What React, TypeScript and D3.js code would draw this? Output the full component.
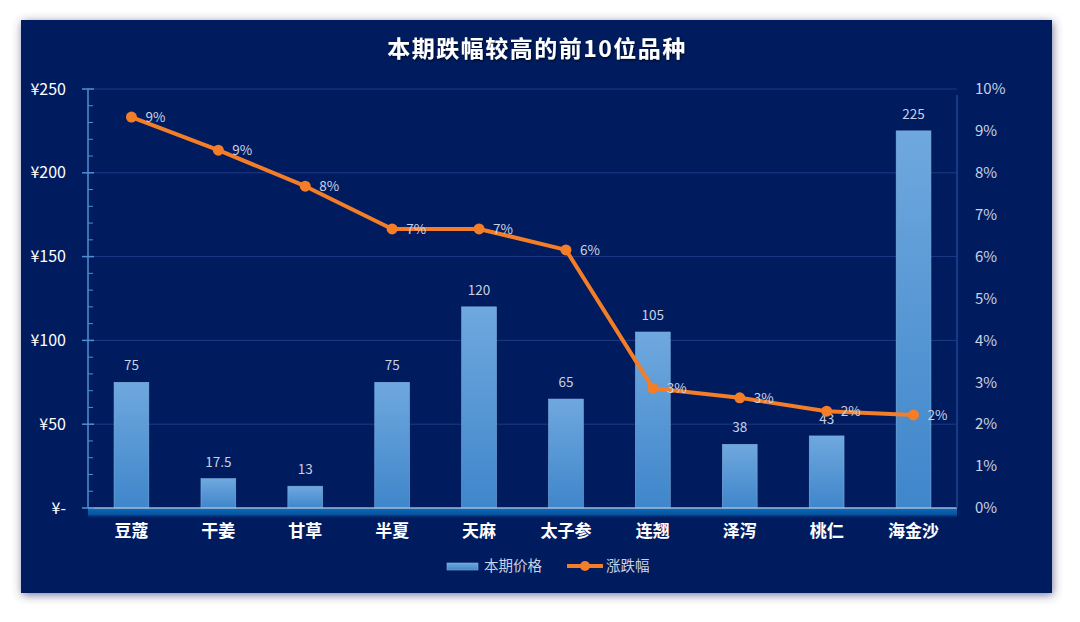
import React from "react";
import * as d3 from "d3";

const WIDTH = 1080;
const HEIGHT = 622;
const PANEL = { x: 21, y: 20, w: 1031, h: 573 };
const MARGIN = { top: 89, left: 88, right: 123, bottom: 114 };

const categories = ["豆蔻", "干姜", "甘草", "半夏", "天麻", "太子参", "连翘", "泽泻", "桃仁", "海金沙"];
const prices = [75, 17.5, 13, 75, 120, 65, 105, 38, 43, 225];
const changes = [0.0933, 0.0854, 0.0768, 0.0666, 0.0666, 0.0616, 0.0286, 0.0263, 0.0231, 0.0222];
const priceTicks = [0, 50, 100, 150, 200, 250];
const pctTicks = [0, 0.01, 0.02, 0.03, 0.04, 0.05, 0.06, 0.07, 0.08, 0.09, 0.1];

const FONT = "'Noto Sans CJK SC', 'Noto Sans', sans-serif";
const BG = "#041b5f";
const ORANGE = "#f47d27";
const LABEL = "#c9d1e2";

const App = () => {
  const innerW = WIDTH - MARGIN.left - MARGIN.right;
  const innerH = HEIGHT - MARGIN.top - MARGIN.bottom;

  const x = d3.scaleBand<string>().domain(categories).range([0, innerW]).paddingInner(0.6).paddingOuter(0.3);
  const xCenter = (c: string) => (x(c) ?? 0) + x.bandwidth() / 2;
  const yLeft = d3.scaleLinear().domain([0, 250]).range([innerH, 0]);
  const yRight = d3.scaleLinear().domain([0, 0.1]).range([innerH, 0]);
  const minorTicks = d3.range(0, 251, 10).filter((v) => v % 50 !== 0);

  const lineGen = d3
    .line<number>()
    .x((_, i) => xCenter(categories[i]))
    .y((d) => yRight(d));

  const fmtPrice = (v: number) => (v === 0 ? "¥-" : `¥${v}`);
  const fmtPct = d3.format(".0%");

  return (
    <div style={{ position: "absolute", left: 0, top: 0 }}>
      <svg width={WIDTH} height={HEIGHT} style={{ display: "block", background: "#ffffff" }}>
        <defs>
          <filter id="panelShadow" x="-5%" y="-5%" width="110%" height="115%">
            <feDropShadow dx="1" dy="2" stdDeviation="5" floodColor="#3a4170" floodOpacity="0.7" />
          </filter>
          <linearGradient id="barGrad" x1="0" y1="0" x2="0" y2="1">
            <stop offset="0%" stopColor="#6fa8de" />
            <stop offset="100%" stopColor="#3f86cb" />
          </linearGradient>
          <linearGradient id="floorGrad" x1="0" y1="0" x2="0" y2="1">
            <stop offset="0%" stopColor="#0a6cbc" />
            <stop offset="60%" stopColor="#08529c" />
            <stop offset="100%" stopColor="#041b5f" stopOpacity="0" />
          </linearGradient>
          <filter id="titleShadow">
            <feDropShadow dx="1" dy="1.5" stdDeviation="1" floodColor="#000" floodOpacity="0.6" />
          </filter>
        </defs>

        <rect x={PANEL.x} y={PANEL.y} width={PANEL.w} height={PANEL.h} fill={BG} filter="url(#panelShadow)" />

        <text
          x={537}
          y={57}
          textAnchor="middle"
          fill="#ffffff"
          fontFamily={FONT}
          fontWeight="bold"
          fontSize={23}
          letterSpacing={1.5}
          filter="url(#titleShadow)"
        >
          本期跌幅较高的前10位品种
        </text>

        <g transform={`translate(${MARGIN.left},${MARGIN.top})`}>
          {/* gridlines */}
          {priceTicks.slice(1).map((t) => (
            <line key={t} x1={0} x2={innerW} y1={yLeft(t)} y2={yLeft(t)} stroke="#1d3a86" strokeWidth={1} />
          ))}

          {/* floor glow */}
          <rect x={0} y={innerH} width={innerW} height={11} fill="url(#floorGrad)" />

          {/* bars */}
          {prices.map((v, i) => (
            <g key={categories[i]}>
              <rect
                x={x(categories[i])}
                y={yLeft(v)}
                width={x.bandwidth()}
                height={innerH - yLeft(v)}
                fill="url(#barGrad)"
                stroke="#7fb2e2"
                strokeWidth={0.6}
              />
              <text
                x={xCenter(categories[i])}
                y={yLeft(v) - 12}
                textAnchor="middle"
                fill={LABEL}
                fontFamily={FONT}
                fontSize={13.5}
              >
                {v}
              </text>
            </g>
          ))}

          {/* x axis line */}
          <line x1={0} x2={innerW} y1={innerH} y2={innerH} stroke="#9fb4d4" strokeWidth={1.5} />

          {/* left axis */}
          <line x1={0} x2={0} y1={0} y2={innerH} stroke="#4f8fd0" strokeWidth={1.5} />
          {priceTicks.map((t) => (
            <g key={t}>
              <line x1={-6} x2={6} y1={yLeft(t)} y2={yLeft(t)} stroke="#4f8fd0" strokeWidth={1.5} />
              <text
                x={-22}
                y={yLeft(t)}
                dy="0.35em"
                textAnchor="end"
                fill="#ffffff"
                fontFamily={FONT}
                fontSize={16}
              >
                {fmtPrice(t)}
              </text>
            </g>
          ))}
          {minorTicks.map((t) => (
            <line key={t} x1={0} x2={5} y1={yLeft(t)} y2={yLeft(t)} stroke="#4f8fd0" strokeWidth={1} />
          ))}

          {/* right axis */}
          <line x1={innerW} x2={innerW} y1={6} y2={innerH} stroke="#1f4590" strokeWidth={1.5} />
          {pctTicks.map((t) => (
            <text
              key={t}
              x={innerW + 18}
              y={yRight(t)}
              dy="0.35em"
              fill={LABEL}
              fontFamily={FONT}
              fontSize={15}
            >
              {fmtPct(t)}
            </text>
          ))}

          {/* category labels */}
          {categories.map((c) => (
            <text
              key={c}
              x={xCenter(c)}
              y={innerH + 29}
              textAnchor="middle"
              fill="#ffffff"
              fontFamily={FONT}
              fontWeight="bold"
              fontSize={17}
            >
              {c}
            </text>
          ))}

          {/* line series */}
          <path d={lineGen(changes) ?? ""} fill="none" stroke={ORANGE} strokeWidth={4} strokeLinejoin="round" />
          {changes.map((v, i) => (
            <g key={categories[i]}>
              <circle cx={xCenter(categories[i])} cy={yRight(v)} r={5.5} fill={ORANGE} />
              <text
                x={xCenter(categories[i]) + 14}
                y={yRight(v)}
                dy="0.35em"
                fill={LABEL}
                fontFamily={FONT}
                fontSize={13.5}
              >
                {fmtPct(Math.round(v * 100) / 100)}
              </text>
            </g>
          ))}
        </g>

        {/* legend */}
        <g transform="translate(447,566)" fontFamily={FONT} fontSize={14.5} fill={LABEL}>
          <rect x={0} y={-3} width={31} height={7} fill="url(#barGrad)" stroke="#7fb2e2" strokeWidth={0.6} />
          <text x={37} y={0} dy="0.35em">
            本期价格
          </text>
          <line x1={120} x2={156} y1={0} y2={0} stroke={ORANGE} strokeWidth={4} />
          <circle cx={138} cy={0} r={5} fill={ORANGE} />
          <text x={159} y={0} dy="0.35em">
            涨跌幅
          </text>
        </g>
      </svg>
    </div>
  );
};

export default App;
